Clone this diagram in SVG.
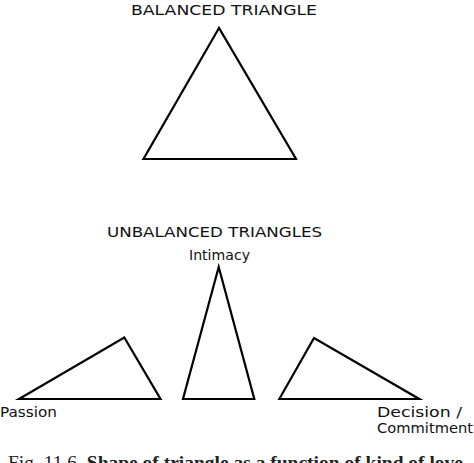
<svg xmlns="http://www.w3.org/2000/svg" width="474" height="463" viewBox="0 0 474 463">
<style>
.tri{fill:none;stroke:#000;stroke-width:2.2;stroke-linejoin:miter}
.h{font-family:"DejaVu Sans","Liberation Sans",sans-serif;font-size:14.5px;fill:#111}
.l{font-family:"DejaVu Sans","Liberation Sans",sans-serif;font-size:14px;fill:#111}
.cap{font-family:"Liberation Serif",serif;font-size:18px;fill:#222}
</style>
<rect width="474" height="463" fill="#fff"/>
<g id="balanced">
<text class="h" x="131" y="14.5" textLength="186" lengthAdjust="spacingAndGlyphs">BALANCED TRIANGLE</text>
<polygon class="tri" points="219,28 143.5,159 296,159"/>
</g>
<g id="unbalanced-title">
<text class="h" x="107" y="236.5" textLength="215" lengthAdjust="spacingAndGlyphs">UNBALANCED TRIANGLES</text>
</g>
<g id="passion">
<polygon class="tri" points="19,399 124.3,337.5 160.5,399"/>
<text class="l" x="0" y="417" textLength="57" lengthAdjust="spacingAndGlyphs">Passion</text>
</g>
<g id="intimacy">
<text class="l" x="189" y="260" textLength="61" lengthAdjust="spacingAndGlyphs">Intimacy</text>
<polygon class="tri" points="218.7,267 183,399 254.3,399"/>
</g>
<g id="decision">
<polygon class="tri" points="279.3,399 314,338 419.3,399"/>
<text class="l" x="377" y="417" textLength="85" lengthAdjust="spacingAndGlyphs">Decision /</text>
<text class="l" x="377" y="433" textLength="96" lengthAdjust="spacingAndGlyphs">Commitment</text>
</g>
<g id="connectors"/>
<g id="caption">
<text class="cap" x="8" y="469" textLength="455" lengthAdjust="spacingAndGlyphs">Fig. 11.6. <tspan font-weight="bold">Shape of triangle as a function of kind of love</tspan></text>
</g>
</svg>
